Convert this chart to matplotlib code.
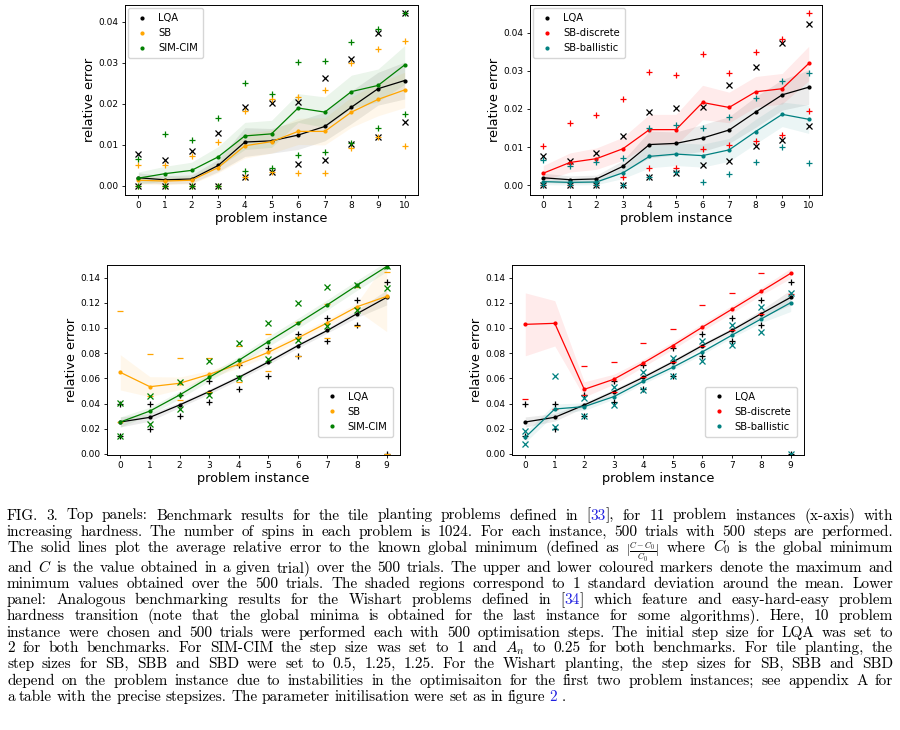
import numpy as np
import matplotlib
matplotlib.use('Agg')
import matplotlib.pyplot as plt
from matplotlib.ticker import FormatStrFormatter

plt.rcParams['mathtext.fontset'] = 'cm'

# tile planting, 11 instances
x_tile = list(range(11))
lqa_tile_mean = [0.0020, 0.0015, 0.0017, 0.0050, 0.0107, 0.0110, 0.0124, 0.0145, 0.0192, 0.0237, 0.0257]
lqa_tile_std = [0.0012, 0.0010, 0.0010, 0.0015, 0.0035, 0.0030, 0.0035, 0.0035, 0.0040, 0.0040, 0.0045]
lqa_tile_max = [0.0078, 0.0063, 0.0085, 0.0130, 0.0193, 0.0202, 0.0205, 0.0263, 0.0310, 0.0372, 0.0421]
lqa_tile_min = [0.0, 0.0, 0.0, 0.0, 0.0023, 0.0033, 0.0054, 0.0063, 0.0102, 0.0120, 0.0156]

sb_tile_mean = [0.0014, 0.0012, 0.0014, 0.0045, 0.0098, 0.0108, 0.0133, 0.0133, 0.0180, 0.0211, 0.0234]
sb_tile_std = [0.0010, 0.0009, 0.0009, 0.0013, 0.0030, 0.0028, 0.0032, 0.0033, 0.0037, 0.0040, 0.0043]
sb_tile_max = [0.0052, 0.0050, 0.0074, 0.0107, 0.0182, 0.0212, 0.0216, 0.0233, 0.0299, 0.0333, 0.0353]
sb_tile_min = [0.0, 0.0, 0.0, 0.0, 0.0023, 0.0033, 0.0032, 0.0032, 0.0093, 0.0120, 0.0098]

simcim_tile_mean = [0.0019, 0.0030, 0.0038, 0.0071, 0.0122, 0.0127, 0.0190, 0.0180, 0.0230, 0.0245, 0.0295]
simcim_tile_std = [0.0015, 0.0018, 0.0020, 0.0025, 0.0033, 0.0033, 0.0035, 0.0037, 0.0040, 0.0040, 0.0047]
simcim_tile_max = [0.0065, 0.0126, 0.0111, 0.0166, 0.0251, 0.0224, 0.0301, 0.0304, 0.0350, 0.0382, 0.0421]
simcim_tile_min = [0.0, 0.0, 0.0, 0.0, 0.0036, 0.0045, 0.0076, 0.0084, 0.0104, 0.0141, 0.0176]

sbd_tile_mean = [0.0032, 0.0060, 0.0070, 0.0096, 0.0146, 0.0146, 0.0217, 0.0204, 0.0245, 0.0253, 0.0319]
sbd_tile_std = [0.0020, 0.0025, 0.0028, 0.0030, 0.0040, 0.0040, 0.0045, 0.0040, 0.0040, 0.0040, 0.0045]
sbd_tile_max = [0.0104, 0.0164, 0.0183, 0.0225, 0.0297, 0.0290, 0.0343, 0.0294, 0.0350, 0.0383, 0.0450]
sbd_tile_min = [0.0, 0.0, 0.0, 0.0023, 0.0045, 0.0045, 0.0096, 0.0105, 0.0115, 0.0131, 0.0196]

sbb_tile_mean = [0.0010, 0.0008, 0.0009, 0.0033, 0.0076, 0.0082, 0.0078, 0.0093, 0.0141, 0.0186, 0.0173]
sbb_tile_std = [0.0008, 0.0007, 0.0007, 0.0015, 0.0030, 0.0030, 0.0030, 0.0030, 0.0032, 0.0032, 0.0037]
sbb_tile_max = [0.0066, 0.0052, 0.0061, 0.0071, 0.0149, 0.0157, 0.0151, 0.0178, 0.0228, 0.0272, 0.0293]
sbb_tile_min = [0.0, 0.0, 0.0, 0.0, 0.0023, 0.0034, 0.0010, 0.0031, 0.0061, 0.0101, 0.0059]

# wishart planting, 10 instances
x_wish = list(range(10))
lqa_wish_mean = [0.0254, 0.0291, 0.0389, 0.0495, 0.0608, 0.0730, 0.0860, 0.0981, 0.1114, 0.1243]
lqa_wish_std = [0.004, 0.003, 0.002, 0.002, 0.002, 0.002, 0.002, 0.002, 0.003, 0.006]
lqa_wish_max = [0.0395, 0.0395, 0.0469, 0.0576, 0.0705, 0.0843, 0.0953, 0.1078, 0.1221, 0.1364]
lqa_wish_min = [0.0140, 0.0197, 0.0303, 0.0416, 0.0512, 0.0617, 0.0775, 0.0895, 0.1024, 0.0]

sb_wish_mean = [0.0648, 0.0534, 0.0561, 0.0632, 0.0712, 0.0807, 0.0921, 0.1042, 0.1169, 0.1251]
sb_wish_std = [0.014, 0.008, 0.005, 0.003, 0.003, 0.003, 0.003, 0.003, 0.003, 0.028]
sb_wish_max = [0.1136, 0.0792, 0.0765, 0.0765, 0.0858, 0.0953, 0.1048, 0.1189, 0.1329, 0.1443]
sb_wish_min = [0.0254, 0.0460, 0.0429, 0.0490, 0.0574, 0.0659, 0.0776, 0.0919, 0.1017, 0.0]

simcim_wish_mean = [0.0254, 0.0341, 0.0468, 0.0608, 0.0743, 0.0892, 0.1037, 0.1185, 0.1339, 0.1488]
simcim_wish_std = [0.004, 0.003, 0.003, 0.003, 0.003, 0.004, 0.004, 0.004, 0.004, 0.004]
simcim_wish_max = [0.0407, 0.0460, 0.0574, 0.0739, 0.0884, 0.1043, 0.1202, 0.1324, 0.1345, 0.1495]
simcim_wish_min = [0.0143, 0.0236, 0.0357, 0.0468, 0.0606, 0.0752, 0.0903, 0.1014, 0.1144, 0.1321]

sbd_wish_mean = [0.1029, 0.1037, 0.0513, 0.0593, 0.0722, 0.0860, 0.1006, 0.1148, 0.1291, 0.1434]
sbd_wish_std = [0.025, 0.018, 0.006, 0.004, 0.003, 0.003, 0.003, 0.003, 0.003, 0.004]
sbd_wish_max = [0.2, 0.2, 0.0699, 0.0728, 0.0879, 0.0995, 0.1186, 0.1281, 0.1440, 0.16]
sbd_wish_min = [0.0434, 0.0357, 0.0469, 0.0495, 0.0608, 0.0730, 0.0860, 0.0981, 0.1114, 0.1267]

sbb_wish_mean = [0.0132, 0.0357, 0.0376, 0.0455, 0.0577, 0.0688, 0.0810, 0.0942, 0.1072, 0.1201]
sbb_wish_std = [0.004, 0.004, 0.003, 0.002, 0.002, 0.002, 0.002, 0.002, 0.003, 0.007]
sbb_wish_max = [0.0185, 0.0622, 0.0447, 0.0530, 0.0651, 0.0762, 0.0895, 0.1021, 0.1165, 0.1281]
sbb_wish_min = [0.0077, 0.0212, 0.0302, 0.0387, 0.0508, 0.0617, 0.0739, 0.0865, 0.0971, 0.0]

# caption, '#' marks the blue (link) parts
caption_lines = [
    "FIG. 3. Top panels: Benchmark results for the tile planting problems defined in [#33#], for 11 problem instances (x-axis) with",
    "increasing hardness. The number of spins in each problem is 1024. For each instance, 500 trials with 500 steps are performed.",
    r"The solid lines plot the average relative error to the known global minimum (defined as $|\frac{C-C_0}{C_0}|$ where $C_0$ is the global minimum",
    r"and $C$ is the value obtained in a given trial) over the 500 trials. The upper and lower coloured markers denote the maximum and",
    "minimum values obtained over the 500 trials. The shaded regions correspond to 1 standard deviation around the mean. Lower",
    "panel: Analogous benchmarking results for the Wishart problems defined in [#34#] which feature and easy-hard-easy problem",
    "hardness transition (note that the global minima is obtained for the last instance for some algorithms). Here, 10 problem",
    "instance were chosen and 500 trials were performed each with 500 optimisation steps. The initial step size for LQA was set to",
    r"2 for both benchmarks. For SIM-CIM the step size was set to 1 and $A_n$ to 0.25 for both benchmarks. For tile planting, the",
    "step sizes for SB, SBB and SBD were set to 0.5, 1.25, 1.25. For the Wishart planting, the step sizes for SB, SBB and SBD",
    "depend on the problem instance due to instabilities in the optimisaiton for the first two problem instances; see appendix A for",
    "a table with the precise stepsizes. The parameter initilisation were set as in figure #2# .",
]
caption_baselines = [519.5, 535.7, 551.7, 572.3, 588.3, 604.3, 620.3, 636.7, 652.3, 668.3, 685, 701]

W, H = 900, 730
fig = plt.figure(figsize=(W / 100, H / 100), dpi=100)

def add_panel(rect, x, series, ylim, yticks, legend_loc, anchor):
    ax = fig.add_axes(rect)
    for mean, std, vmax, vmin, color, label, mk in series:
        mean = np.array(mean)
        std = np.array(std)
        ax.fill_between(x, mean - std, mean + std, color=color, alpha=0.08, lw=0)
        ax.plot(x, mean, '-', color=color, lw=0.9)
        ax.plot(x, mean, '.', color=color, ms=4, label=label)
        ax.plot(x, vmax, mk, color=color, ms=5, mew=0.9, ls='none')
        ax.plot(x, vmin, mk, color=color, ms=5, mew=0.9, ls='none')
    ax.set_ylim(ylim)
    ax.set_xticks(x)
    ax.set_yticks(yticks)
    ax.yaxis.set_major_formatter(FormatStrFormatter('%.2f'))
    ax.tick_params(labelsize=6.5, length=2.5, width=0.6, pad=2)
    for s in ax.spines.values():
        s.set_linewidth(0.7)
    ax.set_xlabel('problem instance', fontsize=9.3, labelpad=1)
    ax.set_ylabel('relative error', fontsize=9.3, labelpad=2)
    ax.legend(loc=legend_loc, bbox_to_anchor=anchor, fontsize=7.2, handletextpad=0.7,
              borderpad=0.5, labelspacing=0.5, handlelength=1.8, borderaxespad=0.3)
    return ax

add_panel([125 / W, 1 - 195 / H, 293 / W, 190 / H], x_tile, [
    (lqa_tile_mean, lqa_tile_std, lqa_tile_max, lqa_tile_min, 'black', 'LQA', 'x'),
    (sb_tile_mean, sb_tile_std, sb_tile_max, sb_tile_min, 'orange', 'SB', '+'),
    (simcim_tile_mean, simcim_tile_std, simcim_tile_max, simcim_tile_min, 'green', 'SIM-CIM', '+'),
], (-0.0022, 0.0441), [0, 0.01, 0.02, 0.03, 0.04], 'upper left', (0, 1))

add_panel([530 / W, 1 - 195 / H, 292 / W, 190 / H], x_tile, [
    (lqa_tile_mean, lqa_tile_std, lqa_tile_max, lqa_tile_min, 'black', 'LQA', 'x'),
    (sbd_tile_mean, sbd_tile_std, sbd_tile_max, sbd_tile_min, 'red', 'SB-discrete', '+'),
    (sbb_tile_mean, sbb_tile_std, sbb_tile_max, sbb_tile_min, 'teal', 'SB-ballistic', '+'),
], (-0.0025, 0.0472), [0, 0.01, 0.02, 0.03, 0.04], 'upper left', (0, 1))

wish_ticks = [0, 0.02, 0.04, 0.06, 0.08, 0.10, 0.12, 0.14]
add_panel([107 / W, 1 - 455 / H, 293 / W, 190 / H], x_wish, [
    (lqa_wish_mean, lqa_wish_std, lqa_wish_max, lqa_wish_min, 'black', 'LQA', '+'),
    (sb_wish_mean, sb_wish_std, sb_wish_max, sb_wish_min, 'orange', 'SB', '_'),
    (simcim_wish_mean, simcim_wish_std, simcim_wish_max, simcim_wish_min, 'green', 'SIM-CIM', 'x'),
], (-0.0008, 0.150), wish_ticks, 'lower right', (0.985, 0.08))

add_panel([512 / W, 1 - 455 / H, 292 / W, 190 / H], x_wish, [
    (lqa_wish_mean, lqa_wish_std, lqa_wish_max, lqa_wish_min, 'black', 'LQA', '+'),
    (sbd_wish_mean, sbd_wish_std, sbd_wish_max, sbd_wish_min, 'red', 'SB-discrete', '_'),
    (sbb_wish_mean, sbb_wish_std, sbb_wish_max, sbb_wish_min, 'teal', 'SB-ballistic', 'x'),
], (-0.0008, 0.150), wish_ticks, 'lower right', (0.985, 0.08))

# caption, justified word by word
renderer = fig.canvas.get_renderer()
left, right = 7, 893
cap_size = 11.0
for i, line in enumerate(caption_lines):
    y = 1 - caption_baselines[i] / H
    words = []
    for word in line.split(' '):
        pieces = []
        for k, part in enumerate(word.split('#')):
            if part == '':
                continue
            col = '#2020e0' if k % 2 == 1 else 'black'
            if 'frac' in part:
                t = fig.text(0, y - 3 / H, part, family='cmr10', fontsize=cap_size * 0.78,
                             color=col, va='baseline')
            else:
                t = fig.text(0, y, part, family='cmr10', fontsize=cap_size, color=col, va='baseline')
            w = t.get_window_extent(renderer).width
            pieces.append((t, w))
        words.append(pieces)
    widths = [sum(w for _, w in p) for p in words]
    if i < len(caption_lines) - 1:
        gap = (right - left - sum(widths)) / (len(words) - 1)
    else:
        gap = 4.5
    xpos = left
    for pieces, wsum in zip(words, widths):
        xx = xpos
        for t, w in pieces:
            t.set_x(xx / W)
            xx += w
        xpos += wsum + gap

fig.savefig('out.png', dpi=100)
